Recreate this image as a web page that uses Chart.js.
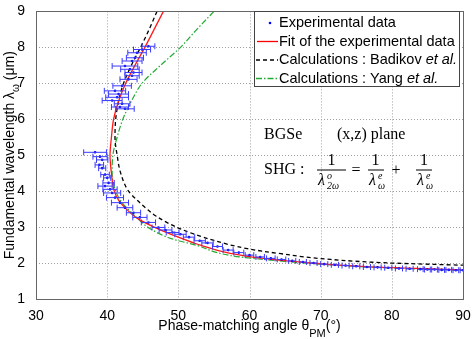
<!DOCTYPE html>
<html><head><meta charset="utf-8">
<script src="https://cdn.jsdelivr.net/npm/chart.js@4.4.0/dist/chart.umd.min.js"></script>
<style>html,body{margin:0;padding:0;background:#fff;overflow:hidden}canvas{display:block}</style>
</head><body>
<canvas id="c" width="474" height="339"></canvas>
<script>
// ---- tick labels ----
const xTicks = [30, 40, 50, 60, 70, 80, 90];
const yTicks = [1, 2, 3, 4, 5, 6, 7, 8, 9];

// ---- experimental data (angle in deg, wavelength in um, angular error in deg) ----
const expAngle = [45.8,44.9,44.2,43.9,43.5,42.5,43.2,43.7,43.5,43.0,42.1,41.1,41.6,41.4,40.7,42.1,41.8,42.5,
  38.3,39.0,39.3,38.9,39.3,39.7,40.0,40.2,39.7,40.4,40.7,41.1,41.8,42.5,43.7,44.6,45.8,47.2,
  48.2,49.2,50.3,51.5,53.0,54.1,55.5,57.0,58.5,60.0,61.5,63.0,64.5,66.0,67.5,69.0,70.5,72.0,73.5,75.0,76.5,78.0,79.5,81.0,82.5,84.0,85.0,86.0,87.0,88.0,89.0,90.0];
const expLambda = [8.03,7.94,7.85,7.71,7.62,7.48,7.39,7.30,7.21,7.11,6.93,6.79,6.70,6.61,6.52,6.43,6.34,6.29,
  5.08,4.96,4.87,4.73,4.64,4.46,4.37,4.23,4.14,4.05,3.95,3.82,3.68,3.54,3.40,3.27,3.13,2.99,
  2.92,2.85,2.80,2.72,2.62,2.56,2.46,2.36,2.29,2.22,2.17,2.13,2.10,2.06,2.03,2.00,1.97,1.95,1.93,1.91,1.89,1.88,1.87,1.85,1.84,1.83,1.82,1.82,1.81,1.81,1.80,1.80];
const expErr = [0.9,1.2,1.3,1.2,1.4,1.8,1.3,1.2,1.0,1.2,1.3,1.5,1.4,1.6,1.4,1.1,1.2,1.3,
  1.6,1.0,0.8,0.6,0.5,0.6,0.5,0.8,1.0,1.0,1.2,1.2,1.2,1.1,1.0,1.0,1.0,0.9,
  0.9,0.9,0.8,0.8,0.8,0.8,0.7,0.7,0.7,0.6,0.6,0.6,0.6,0.5,0.5,0.5,0.5,0.5,0.5,0.5,0.5,0.5,0.5,0.5,0.5,0.4,0.4,0.4,0.4,0.4,0.4,0.4];

// ---- fit of experimental data ----
const fitAngle  = [47.9,46.6,45.3,43.9,42.6,41.6,40.9,40.6,40.4,40.6,41.0,41.6,42.5,44.2,46.6,50.0,52.6,57.3,62.0,70.0,80.0,90.0];
const fitLambda = [9.0, 8.5, 8.0, 7.5, 7.0, 6.5, 6.0, 5.5, 5.0, 4.5, 4.0, 3.75,3.54,3.25,3.0, 2.72,2.53,2.27,2.13,1.98,1.87,1.81];

// ---- calculations: Badikov et al. ----
const badikovAngle  = [47.0,45.9,44.7,43.4,42.3,41.6,41.2,41.1,41.4,41.9,43.0,44.2,45.6,46.9,50.3,55.0,59.7,64.4,71.4,80.0,90.0];
const badikovLambda = [9.0, 8.5, 8.0, 7.5, 7.0, 6.5, 6.0, 5.5, 5.0, 4.5, 4.0, 3.75,3.5, 3.3, 2.95,2.63,2.40,2.26,2.10,2.00,1.94];

// ---- calculations: Yang et al. ----
const yangAngle  = [55.0,52.6,50.3,47.5,44.9,43.4,42.2,41.4,40.8,40.7,41.2,42.2,43.2,46.1,49.0,52.6,57.3,62.0,70.0,80.0,90.0];
const yangLambda = [9.0, 8.5, 8.0, 7.5, 7.0, 6.5, 6.0, 5.5, 5.0, 4.5, 4.0, 3.65,3.45,2.95,2.68,2.49,2.21,2.10,1.97,1.86,1.80];

const legendLabels = ['Experimental data', 'Fit of the experimental data', 'Calculations : Badikov ', 'Calculations : Yang '];

const SANS = '"Liberation Sans", Arial, sans-serif';
const SERIF = '"Liberation Serif", "Times New Roman", serif';
const pts = (xs, ys) => xs.map((v, i) => ({x: v, y: ys[i]}));

const dottedGrid = {
  id: 'dottedGrid',
  beforeDatasetsDraw(chart) {
    const {ctx, chartArea: a, scales: {x, y}} = chart;
    ctx.save();
    ctx.strokeStyle = '#a0a0a0'; ctx.lineWidth = 1; ctx.setLineDash([1, 2]);
    ctx.beginPath();
    xTicks.forEach(v => { const px = Math.round(x.getPixelForValue(v)) + 0.5; ctx.moveTo(px, a.top); ctx.lineTo(px, a.bottom); });
    yTicks.forEach(v => { const py = Math.round(y.getPixelForValue(v)) + 0.5; ctx.moveTo(a.left, py); ctx.lineTo(a.right, py); });
    ctx.stroke();
    ctx.restore();
  }
};

const errorBars = {
  id: 'errorBars',
  afterDatasetsDraw(chart) {
    const {ctx, chartArea: a, scales: {x, y}} = chart;
    ctx.save();
    ctx.beginPath(); ctx.rect(a.left, a.top, a.right - a.left, a.bottom - a.top); ctx.clip();
    ctx.strokeStyle = '#3a3aff'; ctx.lineWidth = 1;
    ctx.beginPath();
    for (let i = 0; i < expAngle.length; i++) {
      const py = y.getPixelForValue(expLambda[i]);
      const x1 = x.getPixelForValue(expAngle[i] - expErr[i]);
      const x2 = x.getPixelForValue(expAngle[i] + expErr[i]);
      ctx.moveTo(x1, py); ctx.lineTo(x2, py);
      ctx.moveTo(x1, py - 3); ctx.lineTo(x1, py + 3);
      ctx.moveTo(x2, py - 3); ctx.lineTo(x2, py + 3);
    }
    ctx.stroke();
    ctx.restore();
  }
};

const decor = {
  id: 'decor',
  afterDraw(chart) {
    const {ctx, chartArea: a} = chart;
    ctx.save();
    // frame
    ctx.strokeStyle = '#666'; ctx.lineWidth = 1;
    ctx.strokeRect(Math.round(a.left) + 0.5, Math.round(a.top) + 0.5, Math.round(a.right - a.left), Math.round(a.bottom - a.top));

    // axis titles
    ctx.fillStyle = '#000';
    ctx.textBaseline = 'alphabetic'; ctx.textAlign = 'left';
    const main = 'Phase-matching angle \u03B8', sub = 'PM', tail = '(\u00B0)';
    ctx.font = '14px ' + SANS; const w1 = ctx.measureText(main).width, w3 = ctx.measureText(tail).width;
    ctx.font = '11px ' + SANS; const w2 = ctx.measureText(sub).width;
    let sx = (a.left + a.right) / 2 - (w1 + w2 + w3) / 2;
    ctx.font = '14px ' + SANS; ctx.fillText(main, sx, 330);
    ctx.font = '11px ' + SANS; ctx.fillText(sub, sx + w1, 337);
    ctx.font = '14px ' + SANS; ctx.fillText(tail, sx + w1 + w2, 330);

    const ym = 'Fundamental wavelength \u03BB', ys = '\u03C9', yt = ' (\u03BCm)';
    ctx.font = '14px ' + SANS; const v1 = ctx.measureText(ym).width, v3 = ctx.measureText(yt).width;
    ctx.font = '10px ' + SANS; const v2 = ctx.measureText(ys).width;
    ctx.save();
    ctx.translate(14, (a.top + a.bottom) / 2); ctx.rotate(-Math.PI / 2);
    let ty = -(v1 + v2 + v3) / 2;
    ctx.font = '14px ' + SANS; ctx.fillText(ym, ty, 0);
    ctx.font = '10px ' + SANS; ctx.fillText(ys, ty + v1, 5);
    ctx.font = '14px ' + SANS; ctx.fillText(yt, ty + v1 + v2, 0);
    ctx.restore();

    // legend box
    const L = 254, T = 11, R = 459, B = 86;
    ctx.fillStyle = '#fff'; ctx.fillRect(L, T, R - L, B - T);
    ctx.strokeStyle = '#444'; ctx.lineWidth = 1; ctx.strokeRect(L + 0.5, T + 0.5, R - L, B - T);
    const rows = [23, 41.5, 60, 78.5];
    const tx = 279;
    ctx.fillStyle = '#000'; ctx.font = '14.5px ' + SANS; ctx.textBaseline = 'middle';
    ctx.fillStyle = '#0000ff'; ctx.beginPath(); ctx.arc(270, rows[0], 1.3, 0, Math.PI * 2); ctx.fill();
    ctx.fillStyle = '#000'; ctx.fillText(legendLabels[0], tx, rows[0]);
    ctx.strokeStyle = '#ff0000'; ctx.lineWidth = 1.3; ctx.setLineDash([]);
    ctx.beginPath(); ctx.moveTo(257, rows[1]); ctx.lineTo(278, rows[1]); ctx.stroke();
    ctx.fillText(legendLabels[1], tx, rows[1]);
    ctx.strokeStyle = '#000'; ctx.setLineDash([4, 3]);
    ctx.beginPath(); ctx.moveTo(256, rows[2]); ctx.lineTo(278, rows[2]); ctx.stroke();
    ctx.setLineDash([]);
    ctx.font = '14.5px ' + SANS; ctx.fillText(legendLabels[2], tx, rows[2]);
    let lw = ctx.measureText(legendLabels[2]).width;
    ctx.font = 'italic 14.5px ' + SANS; ctx.fillText('et al.', tx + lw, rows[2]);
    ctx.strokeStyle = '#22aa33'; ctx.setLineDash([6, 2, 1.5, 2]);
    ctx.beginPath(); ctx.moveTo(256, rows[3]); ctx.lineTo(278, rows[3]); ctx.stroke();
    ctx.setLineDash([]);
    ctx.font = '14.5px ' + SANS; ctx.fillText(legendLabels[3], tx, rows[3]);
    lw = ctx.measureText(legendLabels[3]).width;
    ctx.font = 'italic 14.5px ' + SANS; ctx.fillText('et al.', tx + lw, rows[3]);

    // annotation
    ctx.fillStyle = '#000'; ctx.textBaseline = 'alphabetic'; ctx.textAlign = 'left';
    ctx.font = '16px ' + SERIF;
    ctx.fillText('BGSe', 264, 139);
    ctx.fillText('(x,z) plane', 337, 139);
    ctx.fillText('SHG :', 264, 174);
    ctx.textAlign = 'center';
    ctx.fillText('1', 331.5, 165);
    ctx.fillText('1', 375.5, 165);
    ctx.fillText('1', 424, 165);
    ctx.fillText('=', 356, 175);
    ctx.fillText('+', 396, 175);
    ctx.fillRect(317, 169.5, 29, 1);
    ctx.fillRect(368, 169.5, 16, 1);
    ctx.fillRect(416, 169.5, 16, 1);
    ctx.textAlign = 'left';
    ctx.font = 'italic 16px ' + SERIF;
    ctx.fillText('\u03BB', 318, 185);
    ctx.fillText('\u03BB', 369, 185);
    ctx.fillText('\u03BB', 417, 185);
    ctx.font = 'italic 10px ' + SERIF;
    ctx.fillText('o', 327, 179);
    ctx.fillText('e', 378, 179);
    ctx.fillText('e', 426, 179);
    ctx.fillText('2\u03C9', 327, 189);
    ctx.fillText('\u03C9', 378, 189);
    ctx.fillText('\u03C9', 426, 189);
    ctx.restore();
  }
};

const curveOpts = { showLine: true, pointRadius: 0, fill: false, indexAxis: 'y', cubicInterpolationMode: 'monotone' };

new Chart(document.getElementById('c'), {
  type: 'scatter',
  data: {
    datasets: [
      { label: legendLabels[0], data: pts(expAngle, expLambda), showLine: false,
        pointRadius: 1.3, pointBackgroundColor: '#0000ff', pointBorderWidth: 0, order: 0 },
      Object.assign({ label: legendLabels[1], data: pts(fitAngle, fitLambda), borderColor: '#ff1a1a',
        borderWidth: 1.3, order: 1 }, curveOpts),
      Object.assign({ label: legendLabels[2], data: pts(badikovAngle, badikovLambda), borderColor: '#000',
        borderWidth: 1.3, borderDash: [4, 3], order: 2 }, curveOpts),
      Object.assign({ label: legendLabels[3], data: pts(yangAngle, yangLambda), borderColor: '#22aa33',
        borderWidth: 1.2, borderDash: [6, 2, 1.5, 2], order: 3 }, curveOpts)
    ]
  },
  options: {
    responsive: false, animation: false, devicePixelRatio: 1,
    layout: { padding: { top: 8, right: 11, left: 0, bottom: 0 } },
    plugins: { legend: { display: false }, tooltip: { enabled: false } },
    scales: {
      x: { type: 'linear', min: 30, max: 90,
        afterBuildTicks: s => { s.ticks = xTicks.map(v => ({value: v})); },
        afterFit: s => { s.height = 40; },
        ticks: { color: '#000', font: { family: SANS, size: 14 }, padding: 1, maxRotation: 0 },
        grid: { display: false },
        border: { display: false } },
      y: { type: 'linear', min: 1, max: 9,
        afterBuildTicks: s => { s.ticks = yTicks.map(v => ({value: v})); },
        afterFit: s => { s.width = 36; },
        ticks: { color: '#000', font: { family: SANS, size: 14 }, padding: 3 },
        grid: { display: false },
        border: { display: false } }
    }
  },
  plugins: [dottedGrid, errorBars, decor]
});
</script>
</body></html>
